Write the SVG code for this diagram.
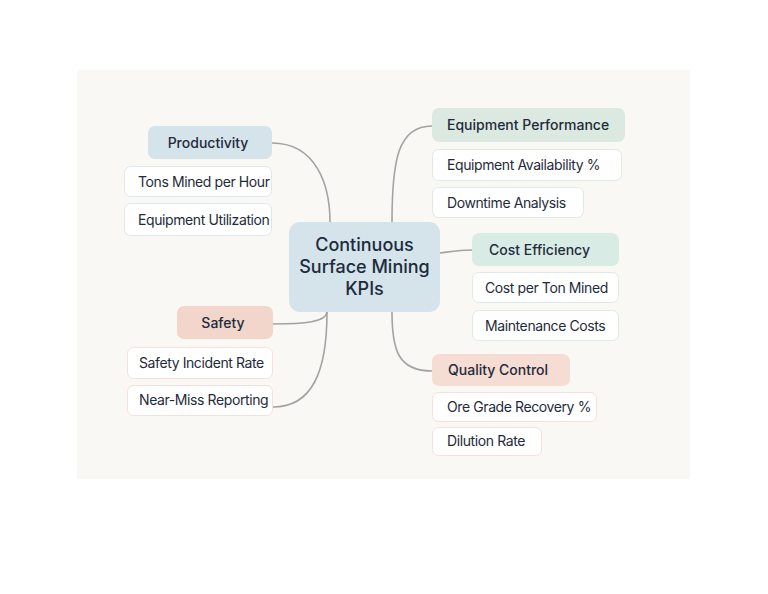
<svg xmlns="http://www.w3.org/2000/svg" width="768" height="594" viewBox="0 0 768 594">
<style>
text{font-family:Inter,"Liberation Sans",sans-serif;fill:#1e2b3a;}
.h{font-size:14px;font-weight:500;}
.i{font-size:14px;font-weight:400;letter-spacing:-0.4px;}
.c{font-size:18px;font-weight:500;text-anchor:middle;}
.item{fill:#ffffff;stroke-width:1;}
.bl{stroke:#dde8ee;}
.gr{stroke:#dcebe3;}
.pk{stroke:#f4e1db;}
.con path{fill:none;stroke:#a3a3a3;stroke-width:1.6;}
</style>
<rect x="0" y="0" width="768" height="594" fill="#ffffff"/>
<rect x="77" y="70" width="613" height="409" fill="#faf8f4"/>
<g class="con">
<path d="M272,143 C316,143 330,185 330,222"/>
<path d="M392,222 C392,160 398,126 432,126"/>
<path d="M440,253 C455,251 460,250 472,250"/>
<path d="M392,312 C392,350 398,371 432,371"/>
<path d="M273,324 C305,324 326,322 327,312"/>
<path d="M273,407 C312,407 327,372 327,312"/>
</g>
<g id="center">
<rect x="289" y="222" width="151" height="90" rx="11" fill="#d5e3eb"/>
<text class="c" x="364.5" y="251">Continuous</text>
<text class="c" x="364.5" y="273">Surface Mining</text>
<text class="c" x="364.5" y="295">KPIs</text>
</g>
<g id="productivity">
<rect x="148" y="126" width="124" height="33" rx="7" fill="#d5e3eb"/>
<text class="h" x="208" y="147.5" text-anchor="middle">Productivity</text>
</g>
<g id="tons">
<rect class="item bl" x="124.5" y="166.5" width="147" height="30" rx="6"/>
<text class="i" x="138" y="186.5">Tons Mined per Hour</text>
</g>
<g id="util">
<rect class="item bl" x="124.5" y="203.5" width="147" height="32" rx="6"/>
<text class="i" x="138" y="224.5">Equipment Utilization</text>
</g>
<g id="safety">
<rect x="177" y="306" width="96" height="33" rx="7" fill="#f2d6cc"/>
<text class="h" x="223" y="327.5" text-anchor="middle">Safety</text>
</g>
<g id="incident">
<rect class="item pk" x="127.5" y="347.5" width="145" height="31" rx="6"/>
<text class="i" x="139" y="367.5">Safety Incident Rate</text>
</g>
<g id="nearmiss">
<rect class="item pk" x="127.5" y="385.5" width="145" height="30" rx="6"/>
<text class="i" x="139" y="405">Near-Miss Reporting</text>
</g>
<g id="equipperf">
<rect x="432" y="108" width="193" height="34" rx="7" fill="#dce9e1"/>
<text class="h" x="447" y="130">Equipment Performance</text>
</g>
<g id="avail">
<rect class="item gr" x="432.5" y="149.5" width="189" height="31" rx="6"/>
<text class="i" x="447" y="169.5">Equipment Availability %</text>
</g>
<g id="downtime">
<rect class="item gr" x="432.5" y="187.5" width="151" height="30" rx="6"/>
<text class="i" x="447" y="207.5">Downtime Analysis</text>
</g>
<g id="cost">
<rect x="472" y="233" width="147" height="33" rx="7" fill="#d9ebe5"/>
<text class="h" x="489" y="254.5">Cost Efficiency</text>
</g>
<g id="costton">
<rect class="item gr" x="472.5" y="272.5" width="146" height="30" rx="6"/>
<text class="i" x="485" y="292.5">Cost per Ton Mined</text>
</g>
<g id="maint">
<rect class="item gr" x="472.5" y="310.5" width="146" height="30" rx="6"/>
<text class="i" x="485" y="330.5">Maintenance Costs</text>
</g>
<g id="quality">
<rect x="432" y="354" width="138" height="32" rx="7" fill="#f6ddd3"/>
<text class="h" x="448" y="375">Quality Control</text>
</g>
<g id="ore">
<rect class="item pk" x="432.5" y="392.5" width="164" height="29" rx="6"/>
<text class="i" x="447" y="411.5">Ore Grade Recovery %</text>
</g>
<g id="dilution">
<rect class="item pk" x="432.5" y="427.5" width="109" height="28" rx="6"/>
<text class="i" x="447" y="446">Dilution Rate</text>
</g>
</svg>
